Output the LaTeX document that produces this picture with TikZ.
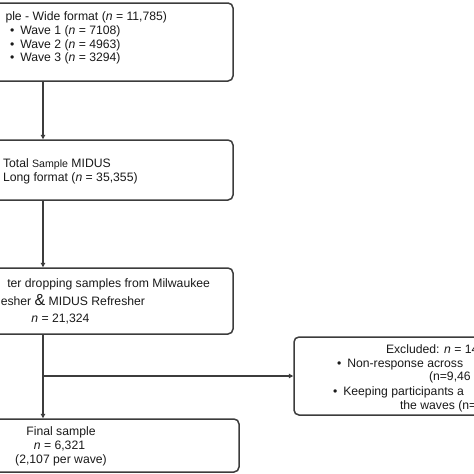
\documentclass[tikz,border=0pt]{standalone}
\usepackage{fontspec}
\setmainfont{Liberation Sans}
\usetikzlibrary{arrows.meta}
\definecolor{boxline}{HTML}{3C3C3C}
\definecolor{txt}{HTML}{1A1A1A}
\tikzset{
  box/.style={draw=boxline, line width=1.5pt, rounded corners=5pt, inner sep=0pt, fill=white},
  lbl/.style={inner sep=0pt, outer sep=0pt, text=txt, font=\fontsize{12.2}{14}\selectfont},
  conn/.style={draw=boxline, line width=1.1pt, -{Triangle[length=4.5pt,width=4.5pt]}},
  plain/.style={draw=boxline, line width=1.1pt}
}
\newcommand{\nn}{\textit{n}}
\begin{document}
\begin{tikzpicture}[x=1pt,y=-1pt]
\useasboundingbox (0,0) rectangle (474,474);
\clip (0,0) rectangle (474,474);
\fill[white] (0,0) rectangle (474,474);
% boxes
\node[box, minimum width=383pt, minimum height=78pt] (b1) at (41.5,42) {};
\node[box, minimum width=383pt, minimum height=60pt] (b2) at (41.5,170) {};
\node[box, minimum width=383pt, minimum height=66pt] (b3) at (41.5,301) {};
\node[box, minimum width=389pt, minimum height=53pt] (b4) at (44.5,445.5) {};
\node[box, minimum width=326pt, minimum height=78pt] (ex) at (457,376) {};
% box 1 text
\node[lbl, anchor=base east] (t11) at (167,20.5) {ple - Wide format (\nn{} = 11,785)};
\node[lbl, anchor=base west] (t12) at (10,34.3) {\textbullet\hspace{6pt}Wave 1 (\nn{} = 7108)};
\node[lbl, anchor=base west] (t13) at (10,48.1) {\textbullet\hspace{6pt}Wave 2 (\nn{} = 4963)};
\node[lbl, anchor=base west] (t14) at (10,61.9) {\textbullet\hspace{6pt}Wave 3 (\nn{} = 3294)};
% box 2 text
\node[lbl, anchor=base west] (t21) at (3,167) {Total {\fontsize{10.6}{12}\selectfont Sample} MIDUS};
\node[lbl, anchor=base west] (t22) at (3,181.5) {Long format (\nn{} = 35,355)};
% box 3 text
\node[lbl, anchor=base east] (t31) at (210,287) {ter dropping samples from Milwaukee};
\node[lbl, anchor=base east] (t32) at (145,305.7) {esher {\fontsize{16}{16}\selectfont\&} MIDUS Refresher};
\node[lbl, anchor=base] (t33) at (60.5,322.7) {\nn{} = 21,324};
% excluded text
\node[lbl, anchor=base west] (e1) at (386,353) {Excluded: \nn{} = 14};
\node[lbl, anchor=base west] (e2) at (337,367) {\textbullet\hspace{6pt}Non-response across};
\node[lbl, anchor=base west] (e3) at (429,380) {(n=9,46};
\node[lbl, anchor=base west] (e4) at (333,395) {\textbullet\hspace{6pt}Keeping participants a};
\node[lbl, anchor=base west] (e5) at (400,409) {the waves (n=};
% final text
\node[lbl, anchor=base] (f1) at (61,435) {Final sample};
\node[lbl, anchor=base] (f2) at (59.5,449.3) {\nn{} = 6,321};
\node[lbl, anchor=base] (f3) at (61,463) {(2,107 per wave)};
% connectors
\coordinate (cx) at (43,0);
\coordinate (j) at (43,376);
\draw[conn] (b1.south -| cx) -- (b2.north -| cx);
\draw[conn] (b2.south -| cx) -- (b3.north -| cx);
\draw[conn] (b3.south -| cx) -- (b4.north -| cx);
\draw[conn] (j) -- (ex.west);
\end{tikzpicture}
\end{document}
